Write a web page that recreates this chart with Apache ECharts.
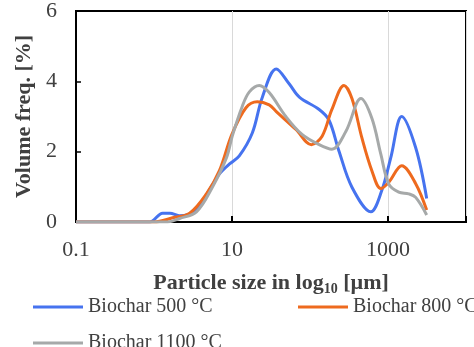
<!DOCTYPE html>
<html>
<head>
<meta charset="utf-8">
<script src="https://cdn.jsdelivr.net/npm/echarts@6/dist/echarts.min.js"></script>
<style>html,body{margin:0;padding:0;background:#fff;}#c{width:474px;height:347px;}</style>
</head>
<body>
<div id="c"></div>
<script>
// Particle sizes (µm) and volume frequencies (%)
const size500 = [0.1, 0.5, 0.88, 1.29, 1.6, 2.1, 3.5, 5.1, 6.9, 9.3, 12.4, 18.2, 24.5, 36.9, 54, 73, 131, 175, 235, 345, 603, 834, 1086, 1500, 2265, 3133];
const vol500  = [0, 0, 0, 0.25, 0.25, 0.18, 0.34, 0.9, 1.37, 1.65, 1.88, 2.53, 3.55, 4.35, 3.93, 3.55, 3.2, 2.9, 2.02, 0.99, 0.29, 0.9, 1.83, 3.0, 2.11, 0.67];

const size800 = [0.1, 1, 1.73, 2.86, 4.7, 6.9, 10, 15.1, 21.1, 30, 37, 66, 104, 143, 191, 273, 345, 463, 621, 809, 1024, 1500, 2265, 3133];
const vol800  = [0, 0, 0.12, 0.25, 0.8, 1.46, 2.5, 3.25, 3.42, 3.33, 3.14, 2.63, 2.2, 2.44, 3.2, 3.88, 3.51, 2.39, 1.46, 0.95, 1.13, 1.6, 1.09, 0.34];

const size1100 = [0.1, 1.5, 2.13, 3.5, 5.6, 8.5, 10.1, 13.6, 16.7, 22.4, 30, 49, 79, 131, 191, 289, 450, 621, 809, 1024, 1374, 1845, 2265, 3133];
const vol1100  = [0, 0, 0.1, 0.29, 0.99, 1.83, 2.45, 3.3, 3.7, 3.88, 3.68, 3.0, 2.49, 2.2, 2.07, 2.58, 3.51, 2.95, 1.93, 1.08, 0.85, 0.8, 0.7, 0.2];

const seriesNames = ['Biochar 500 °C', 'Biochar 800 °C', 'Biochar 1100 °C'];
const yTicks = [0, 2, 4, 6];

const zip = (xs, ys) => xs.map((x, i) => [x, ys[i]]);
const FONT = '"Liberation Serif", "Times New Roman", serif';
const colors = ['#4673EF', '#EE6A1E', '#A6A9A9'];

const chart = echarts.init(document.getElementById('c'));
const legendBase = {
  itemWidth: 50, itemHeight: 3, itemGap: 10, icon: 'rect', padding: 0,
  textStyle: {fontFamily: FONT, fontSize: 20, color: '#404040'},
  selectedMode: false, orient: 'horizontal'
};
chart.setOption({
  animation: false,
  color: colors,
  grid: {left: 76, right: 8, top: 8, bottom: 125, show: true, borderColor: '#000', borderWidth: 2, containLabel: false},
  legend: [
    Object.assign({}, legendBase, {data: [seriesNames[0]], left: 33, top: 297}),
    Object.assign({}, legendBase, {data: [seriesNames[1]], left: 298, top: 297}),
    Object.assign({}, legendBase, {data: [seriesNames[2]], left: 33, top: 333})
  ],
  xAxis: {
    type: 'log', logBase: 10, min: 0.1, max: 10000, interval: 2,
    name: 'Particle size in log{sub|10} [µm]',
    nameLocation: 'middle', nameGap: 49,
    nameTextStyle: {fontFamily: FONT, fontSize: 22, fontWeight: 'bold', color: '#404040',
      rich: {sub: {fontFamily: FONT, fontSize: 14, fontWeight: 'bold', color: '#404040', verticalAlign: 'bottom', padding: [11, 0, 0, 0]}}},
    axisLine: {lineStyle: {color: '#000', width: 2}},
    axisTick: {show: true, inside: true, length: 6, lineStyle: {color: '#000', width: 2}},
    axisLabel: {fontFamily: FONT, fontSize: 22, color: '#404040', margin: 17,
      formatter: v => (v >= 9999 ? '' : String(+v.toPrecision(6)))},
    splitLine: {show: true, lineStyle: {color: '#d9d9d9', width: 1}},
    minorTick: {show: false}
  },
  yAxis: {
    type: 'value', min: yTicks[0], max: yTicks[yTicks.length - 1], interval: 2,
    name: 'Volume freq. [%]', nameLocation: 'middle', nameGap: 38,
    nameTextStyle: {fontFamily: FONT, fontSize: 22, fontWeight: 'bold', color: '#404040'},
    axisLine: {show: true, lineStyle: {color: '#000', width: 2}},
    axisTick: {show: true, inside: true, length: 5, lineStyle: {color: '#000', width: 1.5}},
    axisLabel: {fontFamily: FONT, fontSize: 22, color: '#404040', margin: 19},
    splitLine: {show: false}
  },
  series: [
    {name: seriesNames[0], type: 'line', smooth: 0.35, symbol: 'none', lineStyle: {width: 3}, data: zip(size500, vol500)},
    {name: seriesNames[1], type: 'line', smooth: 0.35, symbol: 'none', lineStyle: {width: 3}, data: zip(size800, vol800)},
    {name: seriesNames[2], type: 'line', smooth: 0.35, symbol: 'none', lineStyle: {width: 3}, data: zip(size1100, vol1100)}
  ]
});
</script>
</body>
</html>
